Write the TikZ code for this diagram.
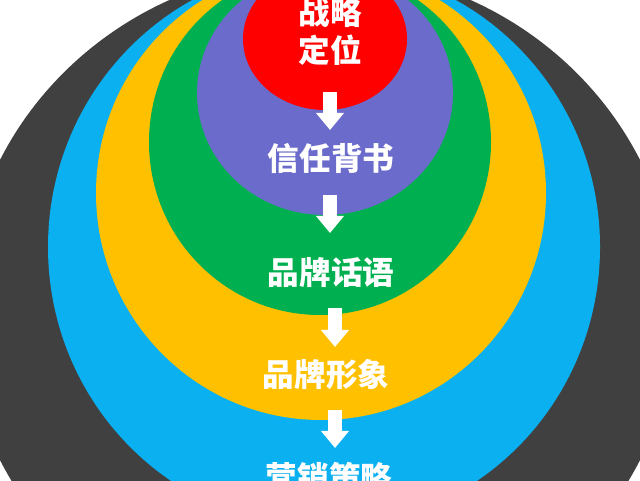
\documentclass[tikz,border=0pt]{standalone}
\usepackage{fontspec}
\newfontfamily\cjk{Noto Sans CJK SC}
\usepackage{xcolor}
\usepackage{tikz}
\usetikzlibrary{arrows.meta}

\definecolor{ringdark}{HTML}{404040}
\definecolor{ringblue}{HTML}{0AB0EF}
\definecolor{ringyellow}{HTML}{FFC000}
\definecolor{ringgreen}{HTML}{00B050}
\definecolor{ringpurple}{HTML}{6B6BCB}
\definecolor{ringred}{HTML}{FF0000}

\begin{document}
\begin{tikzpicture}[x=0.5pt, y=0.5pt,
        lbl/.style={text=white, align=center, inner sep=0pt,
        font=\cjk\bfseries\fontsize{15.8pt}{19pt}\selectfont},
        arr/.style={draw=white, line width=7pt, -{Triangle[width=13.5pt, length=8.5pt]}}
      ]
      \path[use as bounding box] (0,0) rectangle (640,480);
      \clip (0,0) rectangle (640,480);

      % nested layers, all touching at the top
      \fill[ringdark]   (320,170) ellipse [x radius=356, y radius=342];
      \fill[ringblue]   (324,233) ellipse [x radius=276, y radius=281];
      \fill[ringyellow] (321,287) ellipse [x radius=225, y radius=227];
      \fill[ringgreen]  (320,338) ellipse [x radius=171, y radius=173];
      \fill[ringpurple] (325,387) ellipse [x radius=128, y radius=122];
      \fill[ringred]    (325,441) ellipse [x radius=82, y radius=71];

      \node[lbl] (strat)  at (330,448) {战略\\定位};
      \node[lbl] (trust)  at (331,322) {信任背书};
      \node[lbl] (voice)  at (331,207) {品牌话语};
      \node[lbl] (image)  at (326,105) {品牌形象};
      \node[lbl] (market) at (329,3)   {营销策略};

      \draw[arr, shorten <=30pt, shorten >=14pt] (strat.center) -- (strat.center |- trust.center);
      \draw[arr, shorten <=18.5pt, shorten >=20pt] (strat.center |- trust.center) -- (strat.center |- voice.center);
      \draw[arr, shorten <=17.5pt, shorten >=14pt] ([xshift=2pt]voice.center) -- ([xshift=2pt]voice.center |- image.center);
      \draw[arr, shorten <=17.5pt, shorten >=14.5pt] ([xshift=2pt]voice.center |- image.center) -- ([xshift=2pt]voice.center |- market.center);
    \end{tikzpicture}
\end{document}
